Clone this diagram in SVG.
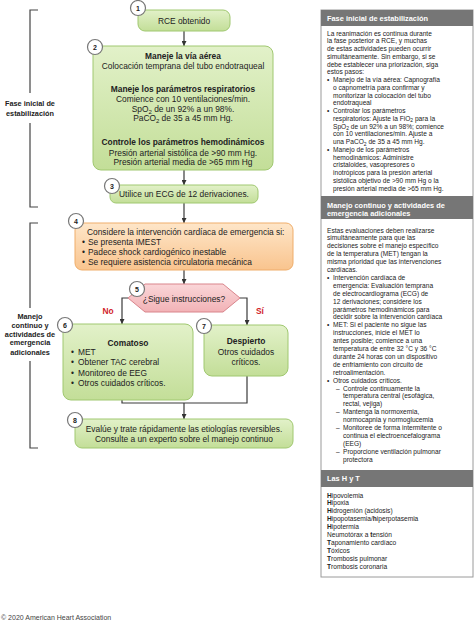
<svg xmlns="http://www.w3.org/2000/svg" width="474" height="622" viewBox="0 0 474 622">
<defs>
<linearGradient id="gG" x1="0" y1="0" x2="0" y2="1"><stop offset="0" stop-color="#e2f1c9"/><stop offset="1" stop-color="#c3de98"/></linearGradient>
<linearGradient id="gO" x1="0" y1="0" x2="0" y2="1"><stop offset="0" stop-color="#fee6c9"/><stop offset="1" stop-color="#f9c48e"/></linearGradient>
<linearGradient id="gP" x1="0" y1="0" x2="0" y2="1"><stop offset="0" stop-color="#fad6d8"/><stop offset="1" stop-color="#f2b2b6"/></linearGradient>
<marker id="ah" viewBox="0 0 10 10" refX="10" refY="5" markerWidth="5" markerHeight="5" orient="auto" markerUnits="userSpaceOnUse"><path d="M0,0 L10,5 L0,10 z" fill="#333"/></marker>
</defs>
<style>
text{font-family:"Liberation Sans",Arial,sans-serif}
.t{font-size:8.4px;fill:#222}
.b{font-weight:bold}
.c{text-anchor:middle}
.p{font-size:6.6px;fill:#222}
.h{font-size:7.4px;font-weight:bold;fill:#fff}
.lbl{font-size:7.3px;font-weight:bold;text-anchor:middle;fill:#222}
.box{fill:url(#gG);stroke:#a0c870;stroke-width:1}
.num circle{fill:#fff;stroke:#777;stroke-width:1.2}
.num text{font-size:7px;font-weight:bold;text-anchor:middle;fill:#222}
.ln{fill:none;stroke:#3a3a3a;stroke-width:1.2}
.br{fill:none;stroke:#444;stroke-width:1.2}
.hd{fill:#767676}
.red{font-size:8.4px;font-weight:bold;fill:#d2232a;text-anchor:middle}
</style>

<g id="connectors">
<line class="ln" x1="184" y1="31" x2="184" y2="46" marker-end="url(#ah)"/>
<line class="ln" x1="184" y1="72" x2="184" y2="83" marker-end="url(#ah)"/>
<line class="ln" x1="184" y1="124" x2="184" y2="135" marker-end="url(#ah)"/>
<line class="ln" x1="184" y1="170" x2="184" y2="185" marker-end="url(#ah)"/>
<line class="ln" x1="184" y1="203" x2="184" y2="223" marker-end="url(#ah)"/>
<line class="ln" x1="184" y1="270" x2="184" y2="284" marker-end="url(#ah)"/>
<polyline class="ln" points="128,298 122,298 122,324" marker-end="url(#ah)"/>
<polyline class="ln" points="240,298 247,298 247,325" marker-end="url(#ah)"/>
<polyline class="ln" points="122,400 122,403 247,403 247,376"/>
<line class="ln" x1="184" y1="403" x2="184" y2="419" marker-end="url(#ah)"/>
<text class="red" x="108" y="314">No</text>
<text class="red" x="260" y="314">Sí</text>
</g>

<g id="brackets">
<path class="br" d="M38,10 H30 V93 M30,123 V207 H38"/>
<text class="lbl" x="30" y="105.5">Fase inicial de</text>
<text class="lbl" x="30" y="115.5">estabilización</text>
<path class="br" d="M38,223 H30 V308 M30,361 V448 H38"/>
<text class="lbl" x="30" y="318.5">Manejo</text>
<text class="lbl" x="30" y="327.5">continuo y</text>
<text class="lbl" x="30" y="336.5">actividades de</text>
<text class="lbl" x="30" y="345.3">emergencia</text>
<text class="lbl" x="30" y="354.5">adicionales</text>
</g>

<g id="n1">
<rect class="box" x="138" y="10" width="92" height="21" rx="7"/>
<text class="t c" x="184" y="24">RCE obtenido</text>
<g class="num"><circle cx="138" cy="8" r="7.5"/><text x="138" y="10.5">1</text></g>
</g>

<g id="n2">
<rect class="box" x="93" y="46" width="180" height="124" rx="8"/>
<text class="t c b" x="183" y="59">Maneje la vía aérea</text>
<text class="t c" x="183" y="69">Colocación temprana del tubo endotraqueal</text>
<text class="t c b" x="183" y="92">Maneje los parámetros respiratorios</text>
<text class="t c" x="183" y="102">Comience con 10 ventilaciones/min.</text>
<text class="t c" x="183" y="111.5">SpO<tspan font-size="6" dy="2">2</tspan><tspan dy="-2"> de un 92% a un 98%.</tspan></text>
<text class="t c" x="183" y="121">PaCO<tspan font-size="6" dy="2">2</tspan><tspan dy="-2"> de 35 a 45 mm Hg.</tspan></text>
<text class="t c b" x="183" y="145">Controle los parámetros hemodinámicos</text>
<text class="t c" x="183" y="156">Presión arterial sistólica de &gt;90 mm Hg.</text>
<text class="t c" x="183" y="165">Presión arterial media de &gt;65 mm Hg</text>
<g class="num"><circle cx="95" cy="47" r="7.5"/><text x="95" y="49.5">2</text></g>
</g>

<g id="n3">
<rect class="box" x="110" y="185" width="148" height="18" rx="6"/>
<text class="t c" x="184" y="197">Utilice un ECG de 12 derivaciones.</text>
<g class="num"><circle cx="112" cy="186" r="7.5"/><text x="112" y="188.5">3</text></g>
</g>

<g id="n4">
<rect x="75" y="223" width="218" height="47" rx="7" fill="url(#gO)" stroke="#efad6a" stroke-width="1"/>
<text class="t" x="87" y="234.7">Considere la intervención cardíaca de emergencia si:</text>
<text class="t" x="82" y="244.7">•</text><text class="t" x="88" y="244.7">Se presenta IMEST</text>
<text class="t" x="82" y="254.7">•</text><text class="t" x="88" y="254.7">Padece shock cardiogénico inestable</text>
<text class="t" x="82" y="264.7">•</text><text class="t" x="88" y="264.7">Se requiere asistencia circulatoria mecánica</text>
<g class="num"><circle cx="76" cy="221" r="7.5"/><text x="76" y="223.5">4</text></g>
</g>

<g id="n5">
<polygon points="128,298 145,284 223,284 240,298 223,312 145,312" fill="url(#gP)" stroke="#d9848b" stroke-width="1"/>
<text class="t c" x="184" y="301.5">¿Sigue instrucciones?</text>
<g class="num"><circle cx="137" cy="289" r="7.5"/><text x="137" y="291.5">5</text></g>
</g>

<g id="n6">
<rect class="box" x="63" y="324" width="130" height="76" rx="8"/>
<text class="t c b" x="128" y="346">Comatoso</text>
<text class="t" x="71" y="355">•</text><text class="t" x="78" y="355">MET</text>
<text class="t" x="71" y="365">•</text><text class="t" x="78" y="365">Obtener TAC cerebral</text>
<text class="t" x="71" y="375.5">•</text><text class="t" x="78" y="375.5">Monitoreo de EEG</text>
<text class="t" x="71" y="386">•</text><text class="t" x="78" y="386">Otros cuidados críticos.</text>
<g class="num"><circle cx="65" cy="325" r="7.5"/><text x="65" y="327.5">6</text></g>
</g>

<g id="n7">
<rect class="box" x="204" y="325" width="84" height="51" rx="8"/>
<text class="t c b" x="246" y="344">Despierto</text>
<text class="t c" x="246" y="355">Otros cuidados</text>
<text class="t c" x="246" y="365">críticos.</text>
<g class="num"><circle cx="204" cy="326" r="7.5"/><text x="204" y="328.5">7</text></g>
</g>

<g id="n8">
<rect class="box" x="75" y="419" width="218" height="29" rx="7"/>
<text class="t c" x="184" y="432">Evalúe y trate rápidamente las etiologías reversibles.</text>
<text class="t c" x="184" y="442">Consulte a un experto sobre el manejo continuo</text>
<g class="num"><circle cx="75" cy="420" r="7.5"/><text x="75" y="422.5">8</text></g>
</g>

<g id="panel">
<rect x="321" y="10" width="152" height="567" fill="#fff" stroke="#9a9a9a" stroke-width="1"/>
<rect class="hd" x="321" y="10" width="152" height="16"/>
<text class="h" x="327" y="20.6">Fase inicial de estabilización</text>
<text class="p" x="327" y="35.5">La reanimación es continua durante</text>
<text class="p" x="327" y="43.25">la fase posterior a RCE, y muchas</text>
<text class="p" x="327" y="51">de estas actividades pueden ocurrir</text>
<text class="p" x="327" y="58.75">simultáneamente. Sin embargo, si se</text>
<text class="p" x="327" y="66.5">debe establecer una priorización, siga</text>
<text class="p" x="327" y="74.25">estos pasos:</text>
<text class="p" x="327" y="82">•</text><text class="p" x="333" y="82">Manejo de la vía aérea: Capnografía</text>
<text class="p" x="333" y="89.75">o capnometría para confirmar y</text>
<text class="p" x="333" y="97.5">monitorizar la colocación del tubo</text>
<text class="p" x="333" y="105.25">endotraqueal</text>
<text class="p" x="327" y="113">•</text><text class="p" x="333" y="113">Controlar los parámetros</text>
<text class="p" x="333" y="120.75">respiratorios: Ajuste la FiO<tspan font-size="5" dy="1.5">2</tspan><tspan dy="-1.5"> para la</tspan></text>
<text class="p" x="333" y="128.5">SpO<tspan font-size="5" dy="1.5">2</tspan><tspan dy="-1.5"> de un 92% a un 98%; comience</tspan></text>
<text class="p" x="333" y="136.25">con 10 ventilaciones/min. Ajuste a</text>
<text class="p" x="333" y="144">una PaCO<tspan font-size="5" dy="1.5">2</tspan><tspan dy="-1.5"> de 35 a 45 mm Hg.</tspan></text>
<text class="p" x="327" y="151.75">•</text><text class="p" x="333" y="151.75">Manejo de los parámetros</text>
<text class="p" x="333" y="159.5">hemodinámicos: Administre</text>
<text class="p" x="333" y="167.25">cristaloides, vasopresores o</text>
<text class="p" x="333" y="175">inotrópicos para la presión arterial</text>
<text class="p" x="333" y="182.75">sistólica objetivo de &gt;90 mm Hg o la</text>
<text class="p" x="333" y="190.5">presión arterial media de &gt;65 mm Hg.</text>

<rect class="hd" x="321" y="196" width="152" height="23"/>
<text class="h" x="327" y="207.5">Manejo continuo y actividades de</text>
<text class="h" x="327" y="215.5">emergencia adicionales</text>
<text class="p" x="327" y="232.5">Estas evaluaciones deben realizarse</text>
<text class="p" x="327" y="240.4">simultáneamente para que las</text>
<text class="p" x="327" y="248.3">decisiones sobre el manejo específico</text>
<text class="p" x="327" y="256.2">de la temperatura (MET) tengan la</text>
<text class="p" x="327" y="264.1">misma prioridad que las intervenciones</text>
<text class="p" x="327" y="272">cardíacas.</text>
<text class="p" x="327" y="279.9">•</text><text class="p" x="333" y="279.9">Intervención cardíaca de</text>
<text class="p" x="333" y="287.8">emergencia: Evaluación temprana</text>
<text class="p" x="333" y="295.7">de electrocardiograma (ECG) de</text>
<text class="p" x="333" y="303.6">12 derivaciones; considere los</text>
<text class="p" x="333" y="311.5">parámetros hemodinámicos para</text>
<text class="p" x="333" y="319.4">decidir sobre la intervención cardíaca</text>
<text class="p" x="327" y="327.3">•</text><text class="p" x="333" y="327.3">MET: Si el paciente no sigue las</text>
<text class="p" x="333" y="335.2">instrucciones, inicie el MET lo</text>
<text class="p" x="333" y="343.1">antes posible; comience a una</text>
<text class="p" x="333" y="351">temperatura de entre 32 °C y 36 °C</text>
<text class="p" x="333" y="358.9">durante 24 horas con un dispositivo</text>
<text class="p" x="333" y="366.8">de enfriamiento con circuito de</text>
<text class="p" x="333" y="374.7">retroalimentación.</text>
<text class="p" x="327" y="382.6">•</text><text class="p" x="333" y="382.6">Otros cuidados críticos.</text>
<text class="p" x="336" y="390.5">–</text><text class="p" x="343" y="390.5">Controle continuamente la</text>
<text class="p" x="343" y="398.4">temperatura central (esofágica,</text>
<text class="p" x="343" y="406.3">rectal, vejiga)</text>
<text class="p" x="336" y="414.2">–</text><text class="p" x="343" y="414.2">Mantenga la normoxemia,</text>
<text class="p" x="343" y="422.1">normocapnia y normoglucemia</text>
<text class="p" x="336" y="430">–</text><text class="p" x="343" y="430">Monitoree de forma intermitente o</text>
<text class="p" x="343" y="437.9">continua el electroencefalograma</text>
<text class="p" x="343" y="445.8">(EEG)</text>
<text class="p" x="336" y="453.7">–</text><text class="p" x="343" y="453.7">Proporcione ventilación pulmonar</text>
<text class="p" x="343" y="461.6">protectora</text>

<rect class="hd" x="321" y="470" width="152" height="17"/>
<text class="h" x="327" y="481">Las H y T</text>
<text class="p" x="327" y="497.5"><tspan font-weight="bold">H</tspan>ipovolemia</text>
<text class="p" x="327" y="505.4"><tspan font-weight="bold">H</tspan>ipoxia</text>
<text class="p" x="327" y="513.3"><tspan font-weight="bold">H</tspan>idrogenión (acidosis)</text>
<text class="p" x="327" y="521.2"><tspan font-weight="bold">H</tspan>ipopotasemia/<tspan font-weight="bold">h</tspan>iperpotasemia</text>
<text class="p" x="327" y="529.1"><tspan font-weight="bold">H</tspan>ipotermia</text>
<text class="p" x="327" y="537">Neumotórax a <tspan font-weight="bold">t</tspan>ensión</text>
<text class="p" x="327" y="544.9"><tspan font-weight="bold">T</tspan>aponamiento cardíaco</text>
<text class="p" x="327" y="552.8"><tspan font-weight="bold">T</tspan>óxicos</text>
<text class="p" x="327" y="560.7"><tspan font-weight="bold">T</tspan>rombosis pulmonar</text>
<text class="p" x="327" y="568.6"><tspan font-weight="bold">T</tspan>rombosis coronaria</text>
</g>

<text x="1" y="620" font-size="7" fill="#444">© 2020 American Heart Association</text>
</svg>
